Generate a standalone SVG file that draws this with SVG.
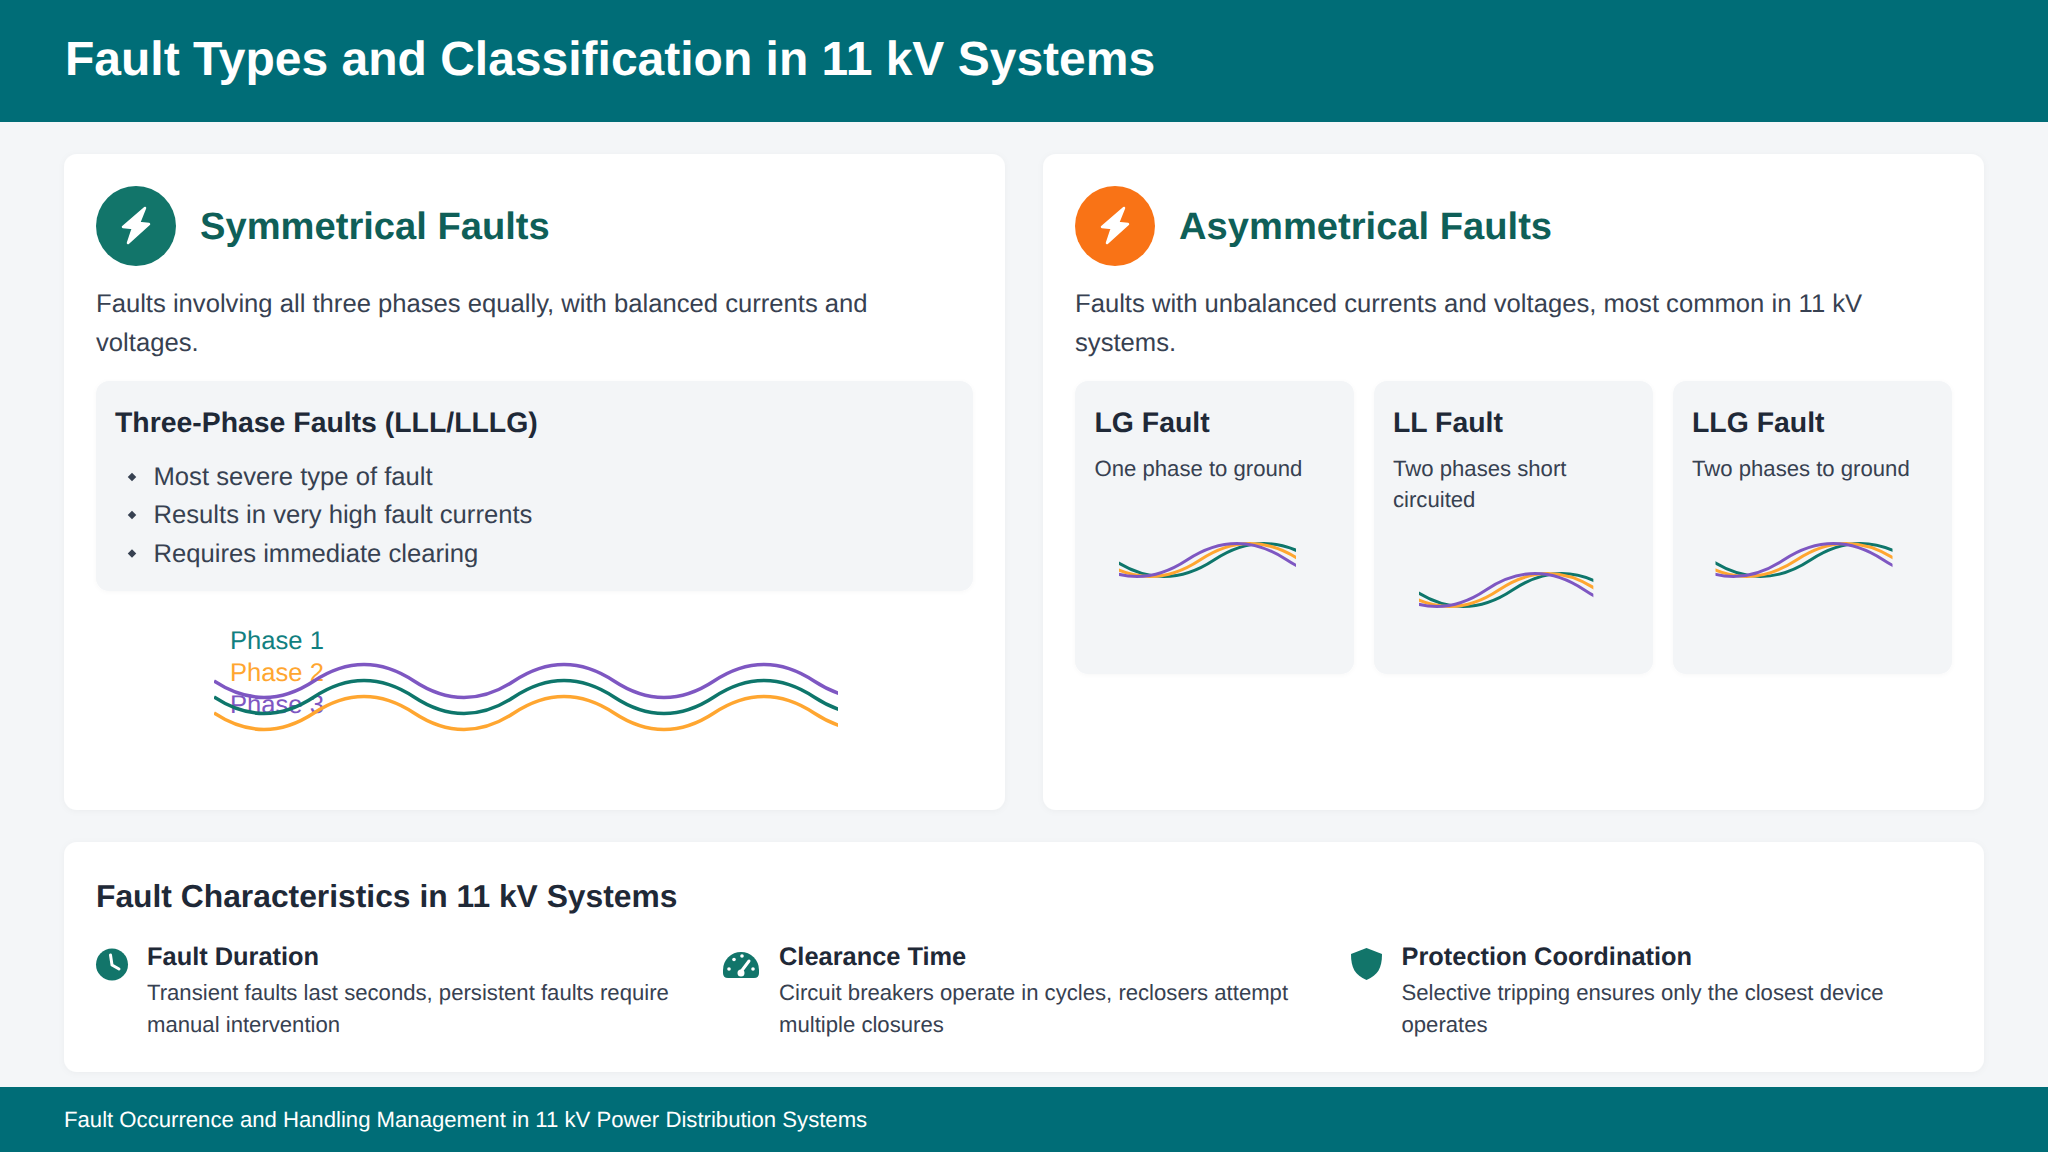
<svg xmlns="http://www.w3.org/2000/svg" width="2048" height="1152" viewBox="0 0 2048 1152">
<defs>
<filter id="sh" x="-5%" y="-5%" width="110%" height="110%"><feDropShadow dx="0" dy="1" stdDeviation="3" flood-color="#000" flood-opacity="0.04"/></filter>
<filter id="sh2" x="-5%" y="-5%" width="110%" height="110%"><feDropShadow dx="0" dy="1" stdDeviation="2" flood-color="#000" flood-opacity="0.03"/></filter>
<path id="bolt" d="M9 -18 L-13 1 L-3 2 L-8 17 L13 -2 L3 -3 Z" fill="#fff" stroke="#fff" stroke-width="2.500" stroke-linejoin="round"/>
<clipPath id="miniclip"><rect x="0" y="-30" width="177" height="60"/></clipPath>
<clipPath id="waveclip"><rect x="214" y="640" width="624" height="110"/></clipPath>
<g id="mini" fill="none" stroke-width="3" clip-path="url(#miniclip)">
<path stroke="#0e766b" d="M-5 0Q45 33 95 0T195 0T295 0"/>
<path stroke="#ffa630" d="M-19 0Q31 33 81 0T181 0T281 0"/>
<path stroke="#7e57c2" d="M-32 0Q18 33 68 0T168 0T268 0"/>
</g>
</defs>
<style>
text{font-family:"Liberation Sans",Arial,sans-serif;text-rendering:geometricPrecision}
.card{fill:#fff;filter:url(#sh)}
.sub{fill:#f3f5f7;filter:url(#sh2)}
.h2{font-size:38.150px;font-weight:700;fill:#0f5f58}
.body{font-size:25.630px;fill:#374151}
.h3{font-size:28.400px;font-weight:700;fill:#1f2937}
.small{font-size:22.130px;fill:#374151}
.h4{font-size:25.400px;font-weight:700;fill:#1f2937}
.wave{fill:none;stroke-width:3.500}
</style>
<rect width="2048" height="1152" fill="#f4f6f8"/>
<rect width="2048" height="122" fill="#006d77"/>
<text x="65" y="75" font-size="48" font-weight="700" fill="#fff">Fault Types and Classification in 11 kV Systems</text>
<g id="symmetrical">
<rect class="card" x="64" y="154" width="941" height="656" rx="13"/>
<circle cx="136" cy="226" r="40" fill="#12756a"/>
<use href="#bolt" x="136" y="226"/>
<text class="h2" x="200" y="238.500">Symmetrical Faults</text>
<text class="body" x="96" y="312">Faults involving all three phases equally, with balanced currents and</text>
<text class="body" x="96" y="351">voltages.</text>
<rect class="sub" x="96" y="381" width="877" height="210" rx="13"/>
<text class="h3" x="115" y="432">Three-Phase Faults (LLL/LLLG)</text>
<g fill="#374151"><rect x="129" y="474" width="6" height="6" transform="rotate(45 132 477)"/><rect x="129" y="512" width="6" height="6" transform="rotate(45 132 515)"/><rect x="129" y="550.500" width="6" height="6" transform="rotate(45 132 553.500)"/></g>
<text class="body" x="153.500" y="485">Most severe type of fault</text>
<text class="body" x="153.500" y="523">Results in very high fault currents</text>
<text class="body" x="153.500" y="562">Requires immediate clearing</text>
<text x="230" y="649" font-size="25.600" fill="#118080">Phase 1</text>
<text x="230" y="681" font-size="25.600" fill="#ffa630">Phase 2</text>
<text x="230" y="713" font-size="25.600" fill="#7e57c2">Phase 3</text>
<g clip-path="url(#waveclip)">
<path class="wave" stroke="#0e766b" d="M214 697Q264 730 314 697T414 697T514 697T614 697T714 697T814 697T914 697"/>
<path class="wave" stroke="#ffa630" d="M214 713Q264 746 314 713T414 713T514 713T614 713T714 713T814 713T914 713"/>
<path class="wave" stroke="#7e57c2" d="M214 681Q264 714 314 681T414 681T514 681T614 681T714 681T814 681T914 681"/>
</g>
</g>
<g id="asymmetrical">
<rect class="card" x="1043" y="154" width="941" height="656" rx="13"/>
<circle cx="1115" cy="226" r="40" fill="#f97316"/>
<use href="#bolt" x="1115" y="226"/>
<text class="h2" x="1179" y="238.500">Asymmetrical Faults</text>
<text class="body" x="1075" y="312">Faults with unbalanced currents and voltages, most common in 11 kV</text>
<text class="body" x="1075" y="351">systems.</text>
</g>
<g id="lg"><rect class="sub" x="1075" y="381" width="279" height="293" rx="13"/><text class="h3" x="1094.500" y="432">LG Fault</text><text class="small" x="1094.500" y="475.500">One phase to ground</text><use href="#mini" transform="translate(1119 560)"/></g>
<g id="ll"><rect class="sub" x="1374" y="381" width="279" height="293" rx="13"/><text class="h3" x="1393" y="432">LL Fault</text><text class="small" x="1393" y="475.500">Two phases short</text><text class="small" x="1393" y="506.500">circuited</text><use href="#mini" transform="translate(1419 590) scale(.985 1)"/></g>
<g id="llg"><rect class="sub" x="1673" y="381" width="279" height="293" rx="13"/><text class="h3" x="1692" y="432">LLG Fault</text><text class="small" x="1692" y="475.500">Two phases to ground</text><use href="#mini" transform="translate(1715.500 560)"/></g>
<g id="characteristics">
<rect class="card" x="64" y="842" width="1920" height="230" rx="13"/>
<text x="96" y="907" font-size="31.800" font-weight="700" fill="#1f2937">Fault Characteristics in 11 kV Systems</text>
</g>
<g id="duration"><circle cx="112" cy="964.500" r="16" fill="#12756a"/><path d="M110.500 955L112 965L119 969" fill="none" stroke="#fff" stroke-width="3" stroke-linecap="round" stroke-linejoin="round"/><text class="h4" x="147" y="964.500">Fault Duration</text><text class="small" x="147" y="999.500">Transient faults last seconds, persistent faults require</text><text class="small" x="147" y="1031.500">manual intervention</text></g>
<g id="clearance"><path d="M723 970a18 18 0 0 1 36 0v3q0 5 -5 5H728q-5 0 -5 -5z" fill="#12756a"/><g fill="#fff"><circle cx="729" cy="969" r="1.800"/><circle cx="734" cy="959.500" r="1.800"/><circle cx="742" cy="956" r="1.800"/><circle cx="753" cy="969" r="1.800"/></g><path d="M740 973L749 961" stroke="#fff" stroke-width="3" stroke-linecap="round"/><circle cx="741" cy="973" r="3.500" fill="#fff"/><text class="h4" x="779" y="964.500">Clearance Time</text><text class="small" x="779" y="999.500">Circuit breakers operate in cycles, reclosers attempt</text><text class="small" x="779" y="1031.500">multiple closures</text></g>
<g id="protection"><path d="M1366.500 948L1382 954C1382 968 1378 975 1366.500 980C1355 975 1351 968 1351 954Z" fill="#12756a"/><text class="h4" x="1401.500" y="964.500">Protection Coordination</text><text class="small" x="1401.500" y="999.500">Selective tripping ensures only the closest device</text><text class="small" x="1401.500" y="1031.500">operates</text></g>
<rect y="1087" width="2048" height="65" fill="#006d77"/>
<text x="64" y="1126.500" font-size="22.150" fill="#fff">Fault Occurrence and Handling Management in 11 kV Power Distribution Systems</text>
</svg>
